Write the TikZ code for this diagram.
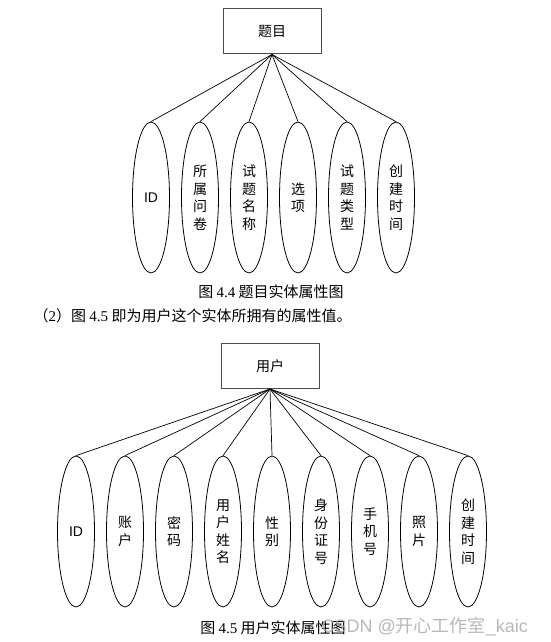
\documentclass[tikz,border=0pt]{standalone}
\usepackage{fontspec}
\setmainfont{Liberation Serif}
\newfontfamily\cjk{Noto Sans CJK SC}
\newfontfamily\arial{Liberation Sans}
\newfontfamily\tnr{Liberation Serif}
\usetikzlibrary{shapes.geometric,positioning}

\tikzstyle{entity} = [draw=black!70, line width=1pt, minimum width=98pt, minimum height=45pt, font=\cjk\fontsize{14}{17}\selectfont]
\tikzstyle{attr} = [draw, ellipse, line width=0.8pt, minimum width=37pt, minimum height=151pt, inner sep=0pt, align=center, font=\cjk\fontsize{14}{17.5}\selectfont]
\tikzstyle{link} = [line width=0.7pt]
\tikzstyle{caption} = [font=\cjk\fontsize{15}{18}\selectfont]

\begin{document}
\begin{tikzpicture}[x=1pt, y=-1pt, node distance=49pt]
\useasboundingbox (0,0) rectangle (551,642);

% Figure 4.4
\node (t) [entity] at (272,31.5) {题目};
\node (t1) [attr] at (151,197.5) {\arial ID};
\node (t2) [attr, right of=t1] {所\\属\\问\\卷};
\node (t3) [attr, right of=t2] {试\\题\\名\\称};
\node (t4) [attr, right of=t3] {选\\项};
\node (t5) [attr, right of=t4] {试\\题\\类\\型};
\node (t6) [attr, right of=t5] {创\\建\\时\\间};

\draw [link] (t.south) -- (t1.north);
\draw [link] (t.south) -- (t2.north);
\draw [link] (t.south) -- (t3.north);
\draw [link] (t.south) -- (t4.north);
\draw [link] (t.south) -- (t5.north);
\draw [link] (t.south) -- (t6.north);

\node (cap1) [caption] at (271,292) {图 {\tnr 4.4} 题目实体属性图};
\node (para) [caption, anchor=west] at (30,316) {（{\tnr 2}）图 {\tnr 4.5} 即为用户这个实体所拥有的属性值。};

% Figure 4.5
\node (u) [entity] at (270,366) {用户};
\node (u1) [attr] at (76,531.5) {\arial ID};
\node (u2) [attr, right of=u1] {账\\户};
\node (u3) [attr, right of=u2] {密\\码};
\node (u4) [attr, right of=u3] {用\\户\\姓\\名};
\node (u5) [attr, right of=u4] {性\\别};
\node (u6) [attr, right of=u5] {身\\份\\证\\号};
\node (u7) [attr, right of=u6] {手\\机\\号};
\node (u8) [attr, right of=u7] {照\\片};
\node (u9) [attr, right of=u8] {创\\建\\时\\间};

\draw [link] (u.south) -- (u1.north);
\draw [link] (u.south) -- (u2.north);
\draw [link] (u.south) -- (u3.north);
\draw [link] (u.south) -- (u4.north);
\draw [link] (u.south) -- (u5.north);
\draw [link] (u.south) -- (u6.north);
\draw [link] (u.south) -- (u7.north);
\draw [link] (u.south) -- (u8.north);
\draw [link] (u.south) -- (u9.north);

\node (cap2) [caption] at (273,628) {图 {\tnr 4.5} 用户实体属性图};
\node (mark) [anchor=west, text=black!35, opacity=0.8, font=\arial\fontsize{18}{20}\selectfont] at (318,627) {CSDN @{\cjk 开心工作室}\_kaic};
\end{tikzpicture}
\end{document}
